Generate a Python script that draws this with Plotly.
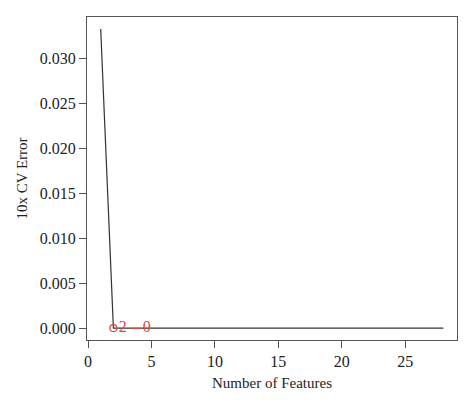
import plotly.graph_objects as go

# number of features vs 10-fold CV error
n_features = list(range(1, 29))
cv_error = [0.0333] + [0.0] * 27

best_n = [2]
best_err = [0.0]
best_label = ["2 \u2013 0"]

serif = "Liberation Serif, Times New Roman, serif"

fig = go.Figure()
fig.add_trace(go.Scatter(x=n_features, y=cv_error, mode="lines",
                         line=dict(color="#333333", width=1.2), showlegend=False))
fig.add_trace(go.Scatter(x=best_n, y=best_err, mode="markers+text",
                         text=best_label, textposition="middle right",
                         textfont=dict(family=serif, size=16, color="#d9483b"),
                         marker=dict(symbol="circle-open", size=7, color="#d9483b",
                                     line=dict(width=1.2)),
                         showlegend=False))

# page body adds an 8px offset, so the figure is sized a bit smaller
fig.update_layout(width=466, height=397, template="simple_white",
                  margin=dict(l=79, r=17, t=9, b=65),
                  font=dict(family=serif, size=15, color="#222222"),
                  plot_bgcolor="white", paper_bgcolor="white")
fig.update_xaxes(range=[-0.08, 29.08], tickvals=[0, 5, 10, 15, 20, 25],
                 showline=True, mirror=True, linecolor="#555555", linewidth=1.2,
                 ticks="outside", ticklen=7, tickcolor="#555555", automargin=False,
                 tickfont=dict(size=16),
                 title=dict(text="Number of Features", standoff=8, font=dict(size=15)),
                 showgrid=False, zeroline=False)
fig.update_yaxes(range=[-0.00133, 0.03463], tickvals=[0, 0.005, 0.01, 0.015, 0.02, 0.025, 0.03],
                 tickformat=".3f", automargin=False,
                 showline=True, mirror=True, linecolor="#555555", linewidth=1.2,
                 ticks="outside", ticklen=7, tickcolor="#555555",
                 tickfont=dict(size=16),
                 title=dict(text="10x CV Error", standoff=8, font=dict(size=15)),
                 showgrid=False, zeroline=False)

fig.write_html("out.html")
